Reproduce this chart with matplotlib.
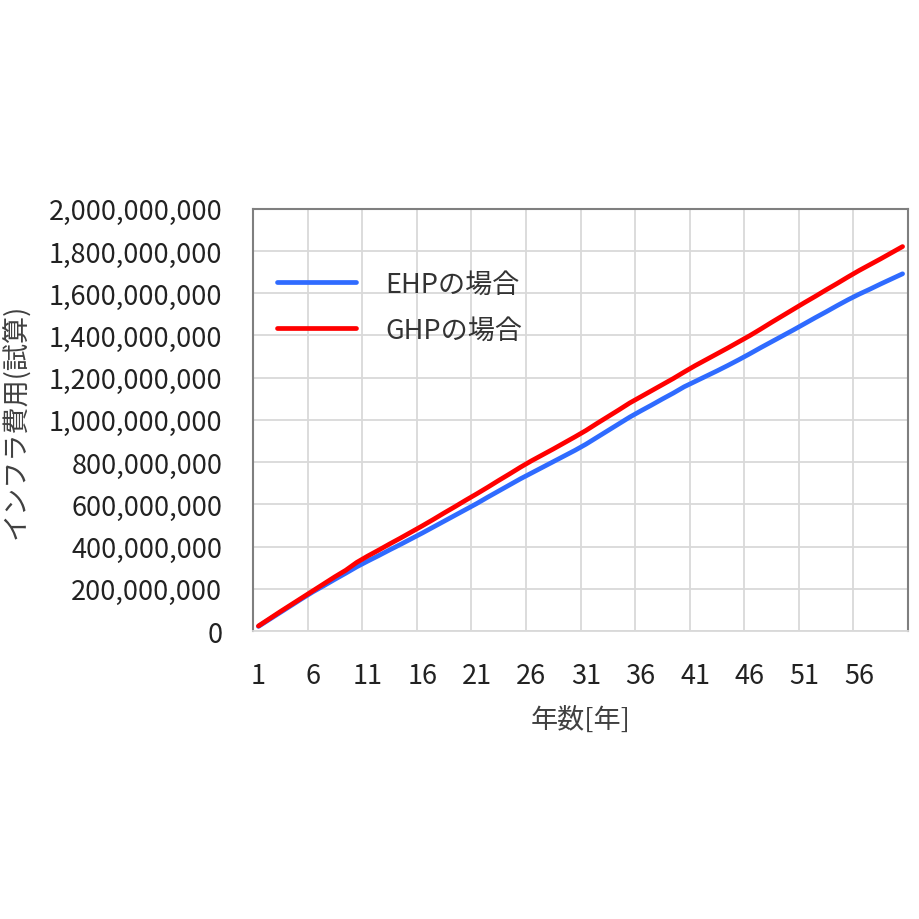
import numpy as np
import matplotlib.pyplot as plt
from matplotlib.ticker import FuncFormatter, FixedLocator

plt.rcParams['font.family'] = ['Noto Sans CJK JP', 'DejaVu Sans']

# 年数 1..60
years = list(range(1, 61))

# インフラ費用 (百万円単位で読み取り)
ehp_m = [22, 55, 88, 121, 154, 186, 215, 245, 274, 304,
         331, 357, 384, 410, 437, 464, 492, 520, 548, 576,
         604, 634, 663, 692, 721, 748, 775, 802, 829, 856,
         885, 917, 949, 981, 1013, 1042, 1070, 1099, 1127, 1157,
         1182, 1207, 1232, 1258, 1285, 1313, 1342, 1370, 1398, 1426,
         1455, 1484, 1512, 1541, 1569, 1595, 1619, 1644, 1668, 1692]
ghp_m = [24, 58, 92, 125, 158, 191, 224, 257, 288, 325,
         355, 383, 412, 440, 469, 498, 528, 559, 589, 620,
         650, 681, 713, 744, 776, 806, 834, 862, 891, 920,
         950, 983, 1015, 1047, 1080, 1109, 1138, 1167, 1196, 1227,
         1257, 1285, 1313, 1341, 1370, 1399, 1430, 1462, 1493, 1524,
         1555, 1585, 1616, 1646, 1677, 1707, 1735, 1763, 1792, 1821]

ehp = np.array(ehp_m) * 1e6
ghp = np.array(ghp_m) * 1e6

x_labels = list(range(1, 60, 5))
y_ticks = list(range(0, 2000000001, 200000000))

FS = 19.5

fig = plt.figure(figsize=(9.2, 9.2), dpi=100)
ax = fig.add_axes([0.275, 0.313, 0.712, 0.459])

ax.plot(years, ehp, color='#2f6bff', lw=3.4, label='EHPの場合', solid_capstyle='round')
ax.plot(years, ghp, color='#ff0000', lw=3.4, label='GHPの場合', solid_capstyle='round')

ax.set_xlim(0.5, 60.5)
ax.set_ylim(0, 2000000000)
ax.set_xticks(x_labels)
ax.xaxis.set_minor_locator(FixedLocator([v + 4.5 for v in x_labels]))
ax.set_yticks(y_ticks)
ax.yaxis.set_major_formatter(FuncFormatter(lambda v, p: f'{int(v):,}'))

ax.grid(True, which='minor', axis='x', color='#d9d9d9', lw=1.3)
ax.grid(True, which='major', axis='y', color='#d9d9d9', lw=1.3)
ax.set_axisbelow(True)
ax.tick_params(axis='both', which='both', length=0, labelsize=FS, colors='#222222')
ax.tick_params(axis='x', pad=22)
ax.tick_params(axis='y', pad=22)

for s in ['left', 'top', 'right']:
    ax.spines[s].set_color('#7f7f7f')
    ax.spines[s].set_linewidth(1.5)
ax.spines['bottom'].set_color('#d9d9d9')
ax.spines['bottom'].set_linewidth(1.3)

ax.set_xlabel('年数[年]', fontsize=FS, color='#404040', labelpad=12)
ax.set_ylabel('インフラ費用(試算)', fontsize=FS, color='#404040')
ax.yaxis.set_label_coords(-0.34, 0.5)

ax.legend(loc='upper left', bbox_to_anchor=(0.037, 0.853), frameon=False,
          fontsize=FS, handlelength=2.9, handletextpad=1.1, labelspacing=0.7,
          borderpad=0, borderaxespad=0, labelcolor='#333333')

plt.savefig('out.png', dpi=100)
